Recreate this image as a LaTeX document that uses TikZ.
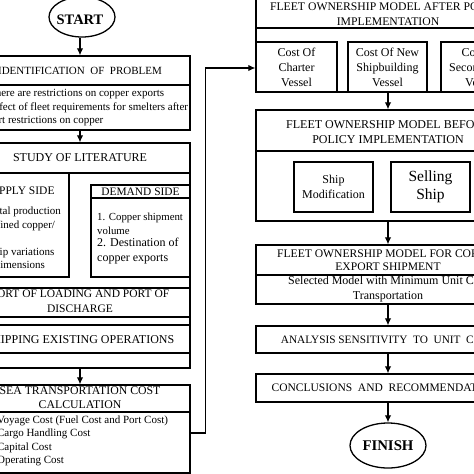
\documentclass[tikz,border=0pt]{standalone}
\usepackage{fontspec}
\setmainfont{Liberation Serif}
\usetikzlibrary{shapes.geometric,arrows.meta}
\begin{document}
\begin{tikzpicture}[x=1pt,y=-1pt,
  box/.style={draw, line width=1.3pt, rectangle, inner sep=0pt},
  oval/.style={draw, line width=1.3pt, ellipse, inner sep=0pt},
  arr/.style={draw, line width=1.2pt, -{Latex[length=7pt,width=6.5pt]}},
  lbl/.style={inner sep=0pt, align=center},
  lft/.style={inner sep=0pt, align=left, anchor=west},
  divl/.style={draw, line width=1.3pt}]
\useasboundingbox (0,0) rectangle (474,474);
\fill[white] (0,0) rectangle (474,474);

% ---------- left column ----------
\node[oval, minimum width=66pt, minimum height=40pt] (start) at (82,17) {};
\node[lbl, font=\fontsize{14.5}{16}\selectfont\bfseries] (starttxt) at (80,20) {START};

\node[box, minimum width=220pt, minimum height=74pt] (ident) at (80,93) {};
\draw[divl] (-30,85) -- (190,85);
\node[lbl, font=\fontsize{11}{13}\selectfont] (identt) at (80,70.5) {IDENTIFICATION~~OF~~PROBLEM};
\node[lft, font=\fontsize{11}{13.5}\selectfont] (identi) at (-23,107.5)
  {1. There are restrictions on copper exports\\2. Effect of fleet requirements for smelters after\\export restrictions on copper};

\node[box, minimum width=220pt, minimum height=225pt] (study) at (80,255.5) {};
\node[lbl, font=\fontsize{12}{14}\selectfont] (studyt) at (80,158) {STUDY OF LITERATURE};
\draw[divl] (-30,173) -- (190,173);

\node[box, minimum width=99pt, minimum height=104pt] (supply) at (19.5,225) {};
\node[lbl, font=\fontsize{11.5}{13}\selectfont] (supplyt) at (19.5,191) {SUPPLY SIDE};
\node[lft, font=\fontsize{11}{13.5}\selectfont] (supplyi) at (-24,238)
  {1. Total production\\of refined copper/\\\mbox{}\\2. Ship variations\\and dimensions};

\node[box, minimum width=99pt, minimum height=92pt] (demand) at (140.5,231) {};
\draw[divl] (91,198) -- (190,198);
\node[lbl, font=\fontsize{11.4}{13}\selectfont] (demandt) at (140.5,191.5) {DEMAND SIDE};
\node[lft, font=\fontsize{10.8}{14}\selectfont] (demand1) at (97,224) {1. Copper shipment\\volume};
\node[lft, font=\fontsize{12}{15}\selectfont] (demand2) at (97,251.5) {2. Destination of\\copper exports};

\node[box, minimum width=220pt, minimum height=29pt] (port) at (80,302.5) {};
\node[lbl, font=\fontsize{11.5}{15}\selectfont] (portt) at (80,301.5) {PORT OF LOADING AND PORT OF\\DISCHARGE};

\node[box, minimum width=220pt, minimum height=28pt] (ship) at (80,339) {};
\node[lbl, font=\fontsize{12}{14}\selectfont] (shipt) at (80,340) {SHIPPING EXISTING OPERATIONS};

\node[box, minimum width=220pt, minimum height=88pt] (sea) at (80,429) {};
\draw[divl] (-30,412) -- (190,412);
\node[lbl, font=\fontsize{11.8}{14}\selectfont] (seat) at (80,398) {SEA TRANSPORTATION COST\\CALCULATION};
\node[lft, font=\fontsize{11}{13.3}\selectfont] (seai) at (-15,441)
  {1. Voyage Cost (Fuel Cost and Port Cost)\\2. Cargo Handling Cost\\3. Capital Cost\\4. Operating Cost};

% ---------- right column ----------
\node[box, minimum width=264pt, minimum height=97pt] (fo1) at (388,43.5) {};
\draw[divl] (256,28) -- (520,28);
\node[lbl, font=\fontsize{11.7}{15}\selectfont] (fo1t) at (388,14.5) {FLEET OWNERSHIP MODEL AFTER POLICY\\IMPLEMENTATION};
\node[box, lbl, font=\fontsize{12}{15}\selectfont, minimum width=81pt, minimum height=50pt] (c1) at (296.5,67) {Cost Of\\Charter\\Vessel};
\node[box, lbl, font=\fontsize{12}{15}\selectfont, minimum width=79pt, minimum height=50pt] (c2) at (387.5,67) {Cost Of New\\Shipbuilding\\Vessel};
\node[box, lbl, font=\fontsize{12}{15}\selectfont, minimum width=79pt, minimum height=50pt] (c3) at (480.5,67) {Cost Of\\Second-hand\\Vessel};

\node[box, minimum width=264pt, minimum height=111pt] (fo2) at (388,165.5) {};
\draw[divl] (256,151) -- (520,151);
\node[lbl, font=\fontsize{12}{15}\selectfont] (fo2t) at (388,132.5) {FLEET OWNERSHIP MODEL BEFORE\\POLICY IMPLEMENTATION};
\node[box, lbl, font=\fontsize{12}{15}\selectfont, minimum width=79pt, minimum height=50pt] (m1) at (333.5,187) {Ship\\Modification};
\node[box, lbl, font=\fontsize{15.5}{18}\selectfont, minimum width=79pt, minimum height=50pt] (m2) at (430.5,187) {Selling\\Ship};

\node[box, minimum width=264pt, minimum height=59pt] (fo3) at (388,274.5) {};
\draw[divl] (256,275) -- (520,275);
\node[lbl, font=\fontsize{11.6}{13}\selectfont] (fo3t) at (388,260.5) {FLEET OWNERSHIP MODEL FOR COPPER\\EXPORT SHIPMENT};
\node[lbl, font=\fontsize{12}{15}\selectfont] (fo3i) at (388,289.5) {Selected Model with Minimum Unit Cost\\Transportation};

\node[box, minimum width=264pt, minimum height=27pt] (ana) at (388,339.5) {};
\node[lbl, font=\fontsize{11.3}{13}\selectfont] (anat) at (388,340) {ANALYSIS SENSITIVITY~~TO~~UNIT~~COST};

\node[box, minimum width=264pt, minimum height=28pt] (conc) at (388,388) {};
\node[lbl, font=\fontsize{11.5}{13}\selectfont] (conct) at (388,388) {CONCLUSIONS~~AND~~RECOMMENDATIONS};

\node[oval, minimum width=76pt, minimum height=45pt, font=\fontsize{14.8}{16}\selectfont\bfseries] (finish) at (388,445.5) {FINISH};

% ---------- connectors ----------
\draw[arr] (start.south -| ident.north) -- (ident.north);
\draw[arr] (ident.south) -- (study.north);
\draw[arr] (study.south) -- (sea.north);
\draw[arr] ([yshift=-4pt]sea.east) -- ++(15,0) |- ([yshift=-24.5pt]fo1.west);
\draw[arr] (fo1.south) -- (fo2.north);
\draw[arr] (fo2.south) -- (fo3.north);
\draw[arr] (fo3.south) -- (ana.north);
\draw[arr] (ana.south) -- (conc.north);
\draw[arr] (conc.south) -- (finish.north);
\end{tikzpicture}
\end{document}
